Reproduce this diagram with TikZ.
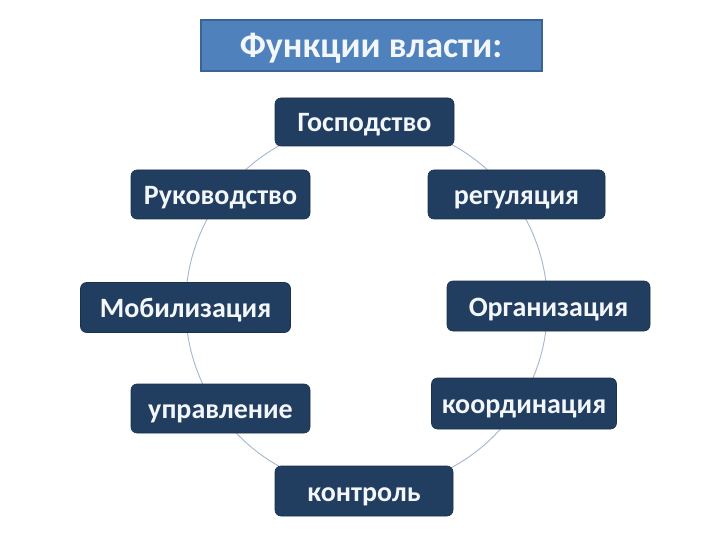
\documentclass[tikz,border=0pt]{standalone}
\usepackage{fontspec}
\setmainfont{Carlito}
\definecolor{navy}{HTML}{213D5F}
\definecolor{titlefill}{HTML}{4F81BD}
\definecolor{titledraw}{HTML}{3A6494}
\definecolor{ringcol}{HTML}{A3B8D0}
\definecolor{txt}{HTML}{F3F6FA}
\begin{document}
\begin{tikzpicture}[x=1pt,y=-1pt,
  fn/.style={fill=navy, draw=navy!80!black, line width=0.6pt, rounded corners=6pt, text=txt,
    font=\fontsize{28}{30}\selectfont\bfseries, inner sep=0pt, text height=20pt, text depth=0pt},
  titlebox/.style={fill=titlefill, draw=titledraw, line width=2pt, text=txt,
    font=\fontsize{36}{40}\selectfont\bfseries, inner sep=0pt, text height=24pt, text depth=0pt},
  ring/.style={draw=ringcol, line width=0.9pt}]
\useasboundingbox (0,0) rectangle (720,540);
\fill[white] (0,0) rectangle (720,540);
\coordinate (c) at (366.5,306);
\draw[ring] (c) ellipse [x radius=181, y radius=183];
\node[titlebox, minimum width=341pt, minimum height=51pt] (title) at (371,45.5) {Функции власти:};
\node[fn, minimum width=179pt, minimum height=48pt] (gosp) at (364.5,122) {Господство};
\node[fn, minimum width=179pt, minimum height=49pt] (ruk) at (220.5,194.5) {Руководство};
\node[fn, minimum width=177pt, minimum height=49pt] (reg) at (516.5,194.5) {регуляция};
\node[fn, minimum width=210pt, minimum height=50pt] (mob) at (185.5,307.5) {Мобилизация};
\node[fn, minimum width=203pt, minimum height=50pt] (org) at (548.5,306) {Организация};
\node[fn, minimum width=179pt, minimum height=49pt] (upr) at (220.5,408.5) {управление};
\node[fn, minimum width=185pt, minimum height=51pt] (koor) at (524,403.5) {координация};
\node[fn, minimum width=178pt, minimum height=50pt] (kontr) at (364,491) {контроль};
\end{tikzpicture}
\end{document}
